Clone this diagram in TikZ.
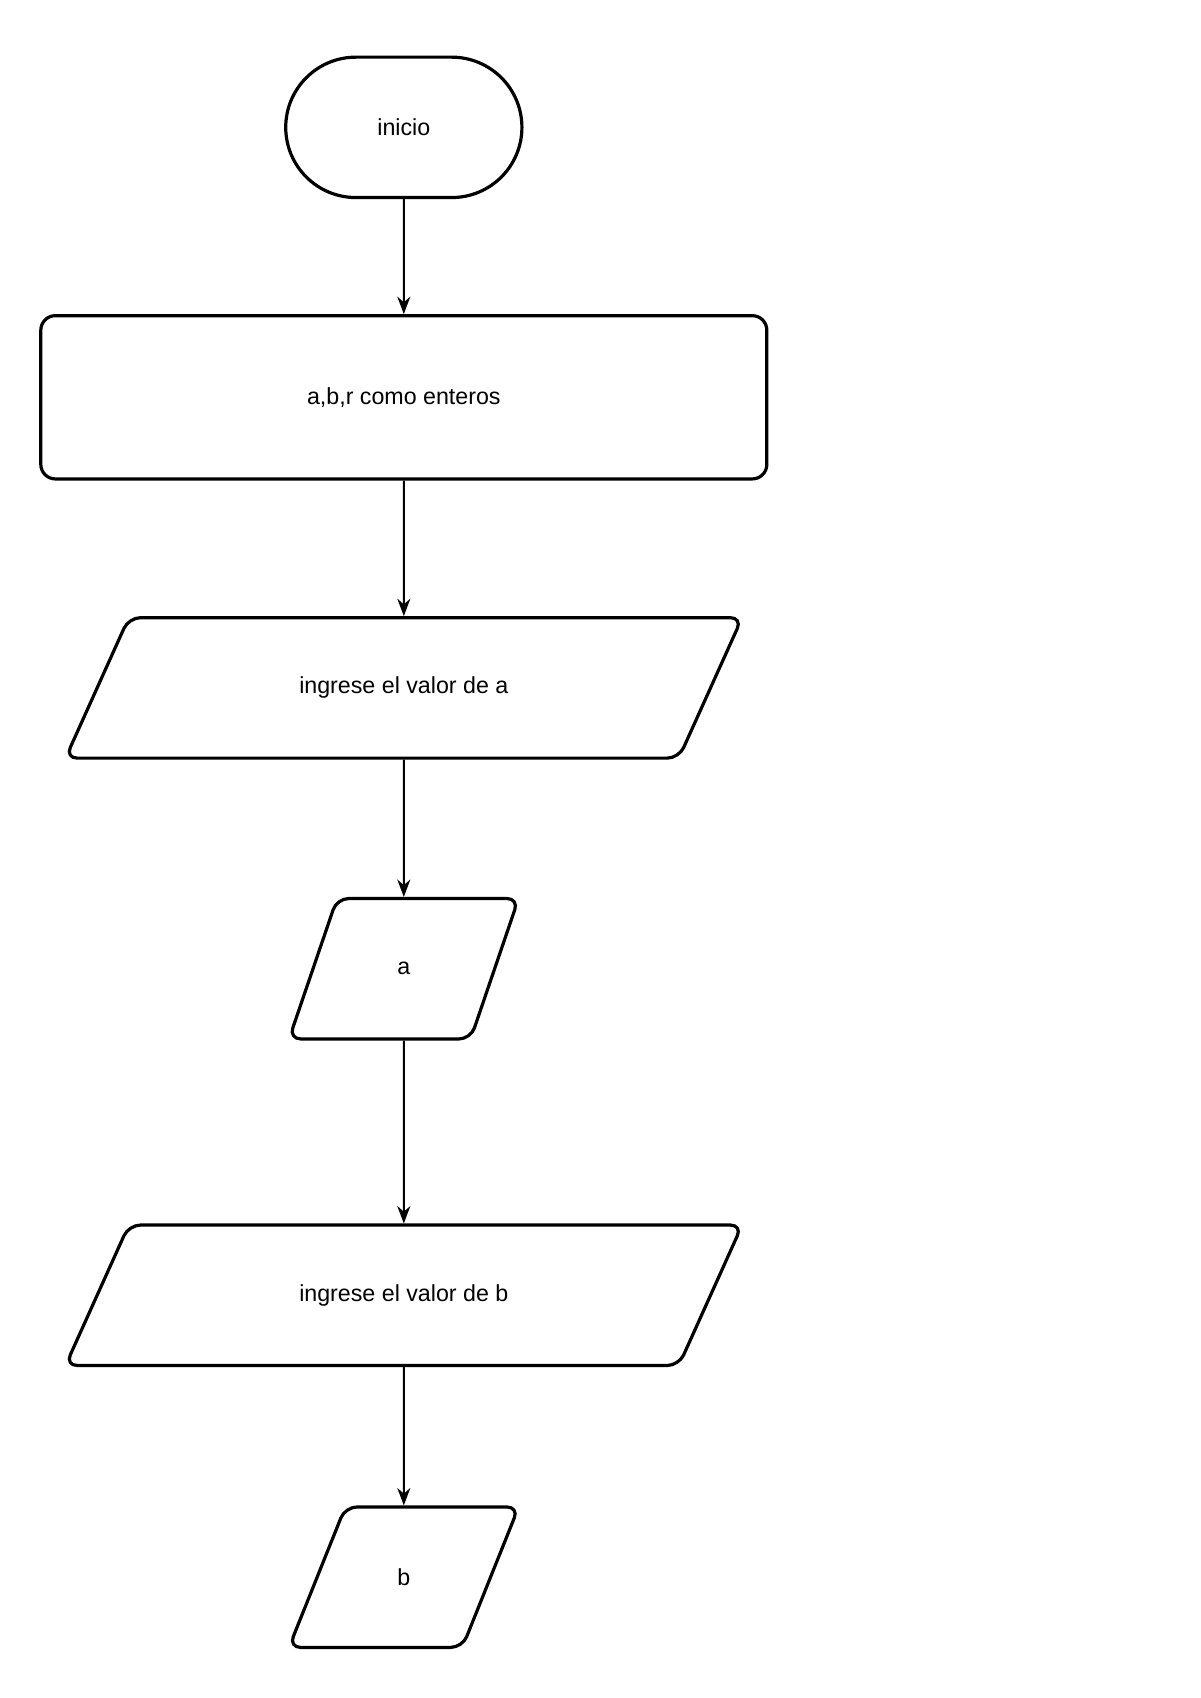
\documentclass[tikz,border=0pt]{standalone}
\usepackage{fontspec}
\setmainfont{Liberation Sans}
\usetikzlibrary{shapes.geometric,shapes.misc,arrows.meta}
\tikzset{
  box/.style={draw, line width=2.2pt, font=\fontsize{16}{19}\selectfont, inner sep=0pt},
  inout/.style={box, trapezium, trapezium stretches=true, rounded corners=8pt},
  flow/.style={line width=1.3pt, -{Stealth[length=12pt,width=9pt]}}
}
\begin{document}
\begin{tikzpicture}[x=0.75pt, y=-0.75pt]
\useasboundingbox (0,0) rectangle (1103,1560);

\node[box, rounded rectangle, minimum width=217*0.75pt, minimum height=129*0.75pt] (inicio) at (371,117) {inicio};
\node[box, rectangle, rounded corners=10pt, minimum width=667*0.75pt, minimum height=150*0.75pt] (vars) at (371,365) {a,b,r como enteros};

\node[inout, trapezium left angle=42, trapezium right angle=138, minimum width=623*0.75pt, minimum height=129*0.75pt] (leera) at (371,632) {ingrese el valor de a};
\node[inout, trapezium left angle=70, trapezium right angle=110, minimum width=211*0.75pt, minimum height=129*0.75pt] (a) at (371,890) {a};
\node[inout, trapezium left angle=42, trapezium right angle=138, minimum width=623*0.75pt, minimum height=129*0.75pt] (leerb) at (371,1190) {ingrese el valor de b};
\node[inout, trapezium left angle=70, trapezium right angle=110, minimum width=211*0.75pt, minimum height=129*0.75pt] (b) at (371,1449) {b};

\draw[flow] (inicio) -- (vars);
\draw[flow] (vars) -- (leera);
\draw[flow] (leera) -- (a);
\draw[flow] (a) -- (leerb);
\draw[flow] (leerb) -- (b);
\end{tikzpicture}
\end{document}
